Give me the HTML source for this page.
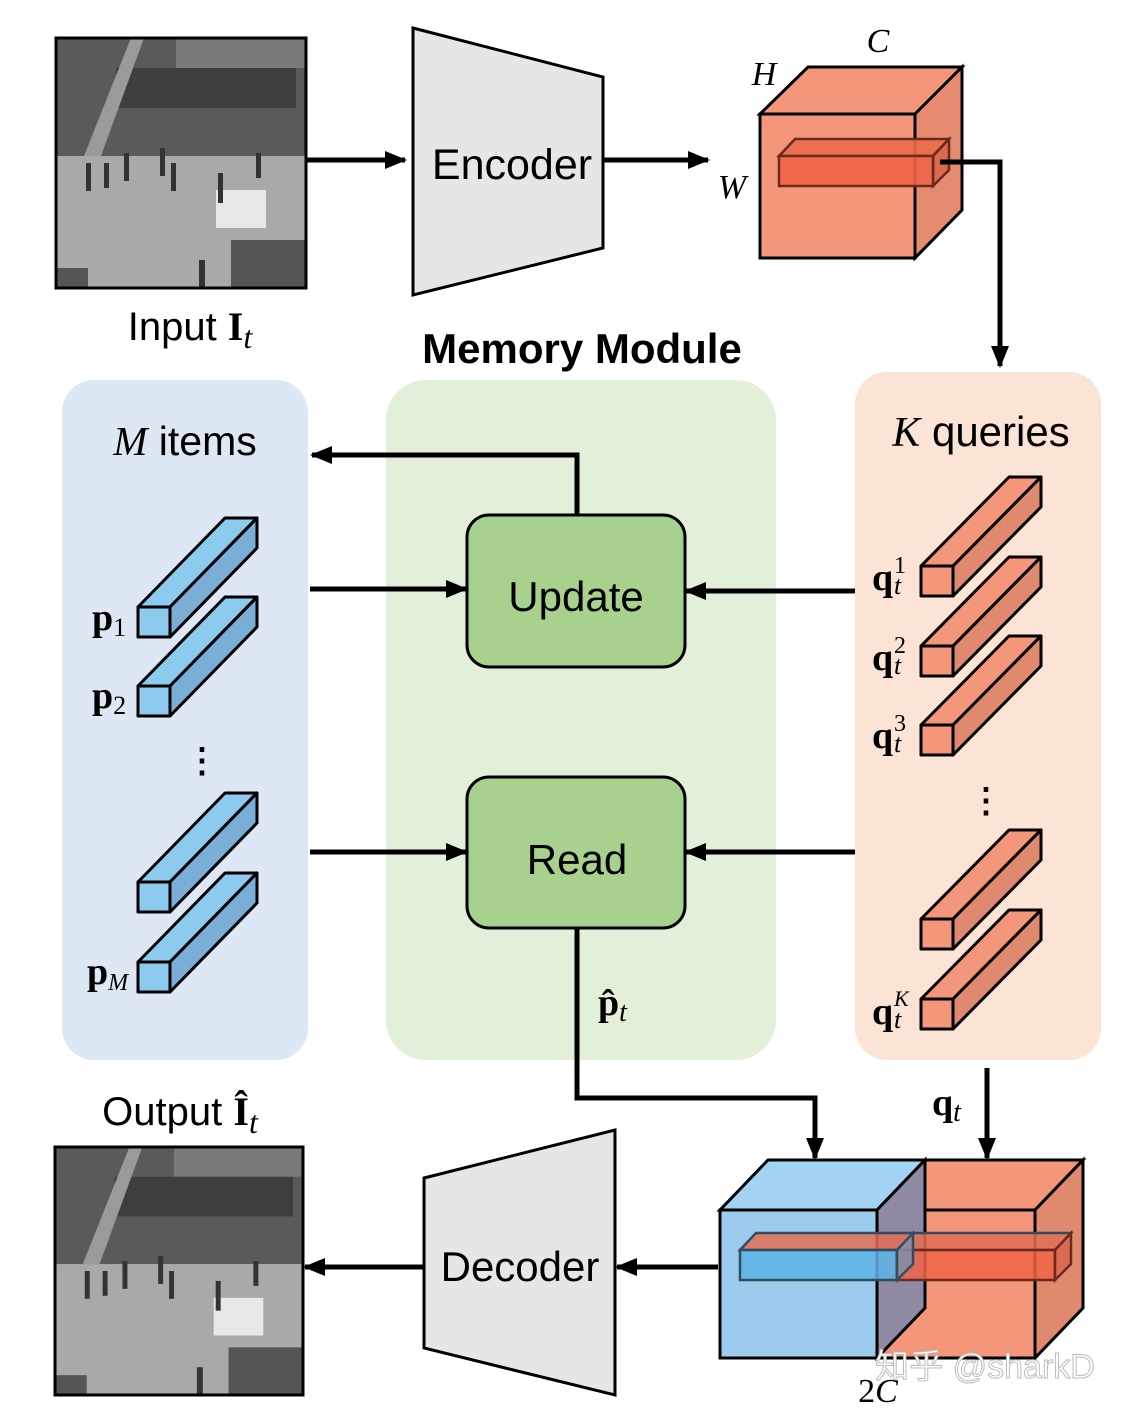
<!DOCTYPE html>
<html><head><meta charset="utf-8"><style>
html,body{margin:0;padding:0;background:#fff;}
svg{display:block;}
text{font-family:"Liberation Sans",sans-serif;}
.s{font-family:"Liberation Serif",serif;}
</style></head><body>
<svg width="1123" height="1415" viewBox="0 0 1123 1415" xmlns="http://www.w3.org/2000/svg">
<defs>
<marker id="ah" markerWidth="22" markerHeight="20" refX="20" refY="10" orient="auto" markerUnits="userSpaceOnUse" viewBox="0 0 22 20"><path d="M0,1 L22,10 L0,19 z" fill="#000"/></marker>
<g id="photo">
<rect x="0" y="0" width="250" height="250" fill="#a9a9a9"/>
<rect x="0" y="0" width="250" height="118" fill="#5a5a5a"/>
<rect x="120" y="0" width="130" height="30" fill="#7a7a7a"/>
<rect x="60" y="30" width="180" height="40" fill="#3e3e3e"/>
<polygon points="75,0 88,0 45,118 28,118" fill="#9a9a9a"/>
<rect x="0" y="230" width="32" height="20" fill="#555"/>
<rect x="175" y="202" width="75" height="48" fill="#555"/>
<rect x="160" y="152" width="50" height="38" fill="#e8e8e8"/>
<g fill="#333"><rect x="30" y="125" width="5" height="28"/><rect x="48" y="125" width="5" height="25"/><rect x="68" y="115" width="5" height="28"/><rect x="104" y="110" width="5" height="28"/><rect x="115" y="125" width="5" height="28"/><rect x="162" y="135" width="5" height="30"/><rect x="200" y="115" width="5" height="25"/><rect x="143" y="222" width="6" height="28"/></g>
</g>
</defs>

<g transform="translate(56,38)"><use href="#photo"/></g>
<rect x="56" y="38" width="250" height="250" fill="none" stroke="#000" stroke-width="3"/>
<text x="190" y="340" font-size="40" text-anchor="middle">Input <tspan class="s" font-weight="bold">I</tspan><tspan class="s" font-style="italic" font-size="32" dy="8">t</tspan></text>

<line x1="306" y1="160" x2="405" y2="160" stroke="#000" stroke-width="5" marker-end="url(#ah)"/>
<polygon points="413,28 603,77 603,248 413,295" fill="#e6e6e6" stroke="#000" stroke-width="3"/>
<text x="512" y="179" font-size="43" text-anchor="middle">Encoder</text>
<line x1="603" y1="160" x2="708" y2="160" stroke="#000" stroke-width="5" marker-end="url(#ah)"/>

<polygon points="760,114 808,67 962,67 915,114" fill="#f4967a" stroke="#000" stroke-width="3"/>
<polygon points="915,114 962,67 962,210 915,258" fill="#e68a70" stroke="#000" stroke-width="3"/>
<rect x="760" y="114" width="155" height="144" fill="#f4967a" stroke="#000" stroke-width="3"/>
<g stroke="#6b2a1c" stroke-width="2.5">
<polygon points="779,156 795,139 949,139 933,156" fill="#ec6a4e" fill-opacity="0.9"/>
<polygon points="933,156 949,139 949,170 933,186" fill="#d9654c" fill-opacity="0.9"/>
<rect x="779" y="156" width="154" height="30" fill="#f06448" fill-opacity="0.9"/>
</g>
<text x="878" y="52" font-size="34" class="s" font-style="italic" text-anchor="middle">C</text>
<text x="764" y="85" font-size="34" class="s" font-style="italic" text-anchor="middle">H</text>
<text x="732" y="198" font-size="34" class="s" font-style="italic" text-anchor="middle">W</text>
<polyline points="940,162 1000,162 1000,366" fill="none" stroke="#000" stroke-width="5" marker-end="url(#ah)"/>

<text x="582" y="363" font-size="42" font-weight="bold" text-anchor="middle">Memory Module</text>

<rect x="62" y="380" width="246" height="680" rx="32" fill="#dde8f4"/>
<rect x="386" y="380" width="390" height="680" rx="40" fill="#e2f0da"/>
<rect x="855" y="372" width="246" height="688" rx="32" fill="#fbe3d5"/>

<text x="185" y="455" font-size="41" text-anchor="middle"><tspan class="s" font-style="italic">M</tspan> items</text>
<text x="981" y="446" font-size="42" text-anchor="middle"><tspan class="s" font-style="italic">K</tspan> queries</text>

<g id="bb" stroke="#000" stroke-width="3" stroke-linejoin="round">
<polygon points="138,607 225,518 257,518 170,607" fill="#8ccaee"/>
<polygon points="170,607 257,518 257,548 170,637" fill="#7aaed6"/>
<rect x="138" y="607" width="32" height="30" fill="#8ccaee"/>
</g>
<use href="#bb" transform="translate(0,79)"/>
<use href="#bb" transform="translate(0,275)"/>
<use href="#bb" transform="translate(0,355)"/>
<text x="202" y="772" font-size="34" text-anchor="middle" font-weight="bold">⋮</text>
<g font-size="38" font-weight="bold">
<text x="92" y="630" class="s">p<tspan font-size="26" font-weight="normal" dy="6">1</tspan></text>
<text x="92" y="708" class="s">p<tspan font-size="26" font-weight="normal" dy="6">2</tspan></text>
<text x="87" y="984" class="s">p<tspan font-size="24" font-weight="normal" font-style="italic" dy="6">M</tspan></text>
</g>

<g id="ob" stroke="#000" stroke-width="3" stroke-linejoin="round">
<polygon points="921,566 1009,477 1041,477 953,566" fill="#f4967a"/>
<polygon points="953,566 1041,477 1041,507 953,596" fill="#df8a6f"/>
<rect x="921" y="566" width="32" height="30" fill="#f4967a"/>
</g>
<use href="#ob" transform="translate(0,80)"/>
<use href="#ob" transform="translate(0,159)"/>
<use href="#ob" transform="translate(0,353)"/>
<use href="#ob" transform="translate(0,433)"/>
<text x="986" y="812" font-size="34" text-anchor="middle" font-weight="bold">⋮</text>
<g font-size="38" font-weight="bold">
<text x="872" y="590" class="s">q</text><text x="894" y="573" class="s" font-size="24" font-weight="normal">1</text><text x="894" y="594" class="s" font-size="26" font-weight="normal" font-style="italic">t</text>
<text x="872" y="670" class="s">q</text><text x="894" y="653" class="s" font-size="24" font-weight="normal">2</text><text x="894" y="674" class="s" font-size="26" font-weight="normal" font-style="italic">t</text>
<text x="872" y="748" class="s">q</text><text x="894" y="731" class="s" font-size="24" font-weight="normal">3</text><text x="894" y="752" class="s" font-size="26" font-weight="normal" font-style="italic">t</text>
<text x="872" y="1024" class="s">q</text><text x="894" y="1006" class="s" font-size="22" font-weight="normal" font-style="italic">K</text><text x="894" y="1028" class="s" font-size="26" font-weight="normal" font-style="italic">t</text>
</g>

<rect x="467" y="515" width="218" height="152" rx="22" fill="#a9d18e" stroke="#000" stroke-width="3"/>
<text x="576" y="611" font-size="42" text-anchor="middle">Update</text>
<rect x="467" y="777" width="218" height="151" rx="22" fill="#a9d18e" stroke="#000" stroke-width="3"/>
<text x="577" y="874" font-size="42" text-anchor="middle">Read</text>

<g stroke="#000" stroke-width="5" fill="none">
<line x1="310" y1="589" x2="466" y2="589" marker-end="url(#ah)"/>
<line x1="855" y1="591" x2="686" y2="591" marker-end="url(#ah)"/>
<line x1="310" y1="852" x2="466" y2="852" marker-end="url(#ah)"/>
<line x1="855" y1="852" x2="686" y2="852" marker-end="url(#ah)"/>
<polyline points="577,515 577,455 312,455" marker-end="url(#ah)"/>
<polyline points="577,928 577,1098 815,1098 815,1158" marker-end="url(#ah)"/>
<line x1="987" y1="1068" x2="987" y2="1158" marker-end="url(#ah)"/>
</g>
<text x="598" y="1015" class="s" font-size="38" font-weight="bold">p̂<tspan font-size="28" font-weight="normal" font-style="italic" dy="6">t</tspan></text>
<text x="932" y="1115" class="s" font-size="38" font-weight="bold">q<tspan font-size="28" font-weight="normal" font-style="italic" dy="6">t</tspan></text>

<g stroke="#000" stroke-width="3">
<polygon points="877,1210 925,1160 1083,1160 1035,1210" fill="#f4967a"/>
<polygon points="1035,1210 1083,1160 1083,1308 1035,1358" fill="#df8a6f"/>
<rect x="877" y="1210" width="158" height="148" fill="#f4967a"/>
<polygon points="720,1210 768,1160 925,1160 877,1210" fill="#a3d3f2"/>
<rect x="720" y="1210" width="157" height="148" fill="#9ccbee"/>
<polygon points="877,1210 925,1160 925,1308 877,1358" fill="#8f89a3"/>
</g>
<g stroke="#2f4f60" stroke-width="2.5" fill-opacity="0.85">
<polygon points="740,1250 756,1233 1071,1233 1055,1250" fill="#e46e55"/>
<rect x="740" y="1250" width="157" height="30" fill="#5db4e6"/>
<rect x="897" y="1250" width="158" height="30" fill="#f06448" stroke="#6b2a1c"/>
<polygon points="1055,1250 1071,1233 1071,1264 1055,1280" fill="#d9654c" stroke="#6b2a1c"/>
<polygon points="897,1250 913,1233 913,1264 897,1280" fill="#7f8fa8"/>
</g>
<text x="878" y="1402" class="s" font-size="34" text-anchor="middle">2<tspan font-style="italic">C</tspan></text>
<text x="985" y="1378" font-size="34" text-anchor="middle" fill="#fff" stroke="#bbb" stroke-width="1" style="font-family:'Liberation Sans','Noto Sans CJK SC',sans-serif">知乎 @sharkD</text>

<line x1="718" y1="1267" x2="617" y2="1267" stroke="#000" stroke-width="5" marker-end="url(#ah)"/>
<polygon points="424,1178 615,1130 615,1395 424,1348" fill="#e6e6e6" stroke="#000" stroke-width="3"/>
<text x="520" y="1281" font-size="42" text-anchor="middle">Decoder</text>
<line x1="424" y1="1267" x2="305" y2="1267" stroke="#000" stroke-width="5" marker-end="url(#ah)"/>

<g transform="translate(55,1147) scale(0.992)"><use href="#photo"/></g>
<rect x="55" y="1147" width="248" height="248" fill="none" stroke="#000" stroke-width="3"/>
<text x="180" y="1125" font-size="40" text-anchor="middle">Output <tspan class="s" font-weight="bold">Î</tspan><tspan class="s" font-style="italic" font-size="32" dy="8">t</tspan></text>
</svg>
</body></html>
